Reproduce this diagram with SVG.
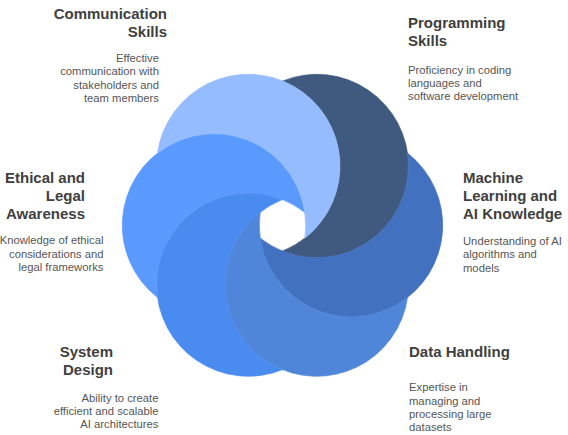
<svg xmlns="http://www.w3.org/2000/svg" xmlns:xlink="http://www.w3.org/1999/xlink" width="568" height="435" viewBox="0 0 568 435">
  <style>
    .t { font-family: "Liberation Sans", Arial, sans-serif; font-size: 15px; font-weight: bold; fill: #404040; }
    .d { font-family: "Liberation Sans", Arial, sans-serif; font-size: 11.25px; fill: #565656; }
    .e { text-anchor: end; }
    .seg { stroke-width: 0.6; stroke-linejoin: round; }
    .c-comm { fill: #94bcff; stroke: #94bcff; }
    .c-prog { fill: #40597f; stroke: #40597f; }
    .c-ml { fill: #4271bf; stroke: #4271bf; }
    .c-data { fill: #4f86d9; stroke: #4f86d9; }
    .c-sys { fill: #4a8bef; stroke: #4a8bef; }
    .c-eth { fill: #5a9aff; stroke: #5a9aff; }
  </style>
  <defs>
    <!-- circle (316.75,165.98) r 91.7 minus neighbouring circle (248.25,165.98) r 91.7 -->
    <path id="crescent" d="M 282.5 80.92 A 91.7 91.7 0 1 1 282.5 251.04 A 91.7 91.7 0 0 0 282.5 80.92 Z"/>
  </defs>
  <rect width="568" height="435" fill="#ffffff"/>
  <g id="connectors"/>

  <g id="node-programming">
    <use href="#crescent" xlink:href="#crescent" class="seg c-prog"/>
    <text class="t" x="408" y="27.7">Programming</text>
    <text class="t" x="408" y="45.6">Skills</text>
    <text class="d" x="408" y="73.8">Proficiency in coding</text>
    <text class="d" x="408" y="87.1">languages and</text>
    <text class="d" x="408" y="100.4">software development</text>
  </g>

  <g id="node-ml">
    <use href="#crescent" xlink:href="#crescent" class="seg c-ml" transform="rotate(60 282.5 225.3)"/>
    <text class="t" x="463" y="183">Machine</text>
    <text class="t" x="463" y="201">Learning and</text>
    <text class="t" x="463" y="219">AI Knowledge</text>
    <text class="d" x="463" y="244.8">Understanding of AI</text>
    <text class="d" x="463" y="258.2">algorithms and</text>
    <text class="d" x="463" y="271.6">models</text>
  </g>

  <g id="node-data">
    <use href="#crescent" xlink:href="#crescent" class="seg c-data" transform="rotate(120 282.5 225.3)"/>
    <text class="t" x="409" y="356.5">Data Handling</text>
    <text class="d" x="409" y="391.2">Expertise in</text>
    <text class="d" x="409" y="404.6">managing and</text>
    <text class="d" x="409" y="418">processing large</text>
    <text class="d" x="409" y="431.4">datasets</text>
  </g>

  <g id="node-system">
    <use href="#crescent" xlink:href="#crescent" class="seg c-sys" transform="rotate(180 282.5 225.3)"/>
    <text class="t e" x="113" y="356.5">System</text>
    <text class="t e" x="113" y="374.6">Design</text>
    <text class="d e" x="158.5" y="401.6">Ability to create</text>
    <text class="d e" x="158.5" y="415">efficient and scalable</text>
    <text class="d e" x="158.5" y="428.4">AI architectures</text>
  </g>

  <g id="node-ethical">
    <use href="#crescent" xlink:href="#crescent" class="seg c-eth" transform="rotate(240 282.5 225.3)"/>
    <text class="t e" x="85" y="183">Ethical and</text>
    <text class="t e" x="85" y="201">Legal</text>
    <text class="t e" x="85" y="219">Awareness</text>
    <text class="d e" x="103.5" y="244.4">Knowledge of ethical</text>
    <text class="d e" x="103.5" y="257.8">considerations and</text>
    <text class="d e" x="103.5" y="271.2">legal frameworks</text>
  </g>

  <g id="node-communication">
    <use href="#crescent" xlink:href="#crescent" class="seg c-comm" transform="rotate(300 282.5 225.3)"/>
    <text class="t e" x="167" y="19.3">Communication</text>
    <text class="t e" x="167" y="37">Skills</text>
    <text class="d e" x="159" y="62">Effective</text>
    <text class="d e" x="159" y="75.4">communication with</text>
    <text class="d e" x="159" y="88.8">stakeholders and</text>
    <text class="d e" x="159" y="102.2">team members</text>
  </g>
</svg>
